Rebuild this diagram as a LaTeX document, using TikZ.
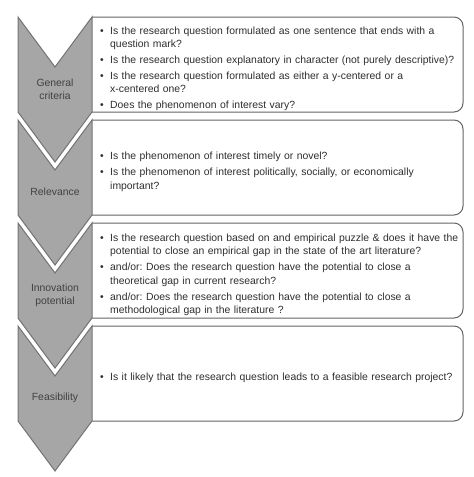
\documentclass[tikz,border=0pt]{standalone}
\usepackage{fontspec}
\setmainfont{Liberation Sans}
\definecolor{chevfill}{RGB}{166,166,166}
\definecolor{chevline}{RGB}{115,115,115}
\definecolor{boxline}{RGB}{100,100,100}
\definecolor{qtext}{RGB}{45,45,45}
\definecolor{ltext}{RGB}{65,65,65}
\frenchspacing
\newcommand{\qi}[1]{\setlength{\parskip}{2.7pt}\par\hangindent=10pt\hangafter=1\noindent\makebox[10pt][l]{\textbullet}#1\par}

\begin{document}
\begin{tikzpicture}[x=1pt, y=-1pt,
    chev/.style={fill=chevfill, draw=chevline, line width=1pt, line join=miter},
    qbox/.style={draw=boxline, line width=1pt},
    label/.style={text=ltext, align=center, font=\fontsize{10.4}{13.3}\selectfont},
    qlist/.style={anchor=west, inner sep=0pt, text width=362pt, text=qtext,
        font=\fontsize{10.4}{13.3}\selectfont\frenchspacing}]
    \useasboundingbox (0,0) rectangle (474,477);

    % chevrons and boxes
    \foreach \t in {17,120,223,326} {
        \draw[qbox] (92,\t) [rounded corners=9pt] -- (463,\t) -- (463,\t+95) [sharp corners] -- (92,\t+95);
        \draw[chev] (18,\t) -- (55,\t+50) -- (92,\t) -- (92,\t+95) -- (55,\t+145) -- (18,\t+95) -- cycle;
    }

    % labels
    \node[label] (general) at (55,89) {General\\criteria};
    \node[label] (relevance) at (55,192) {Relevance};
    \node[label] (innovation) at (55,295) {Innovation\\potential};
    \node[label] (feasibility) at (55,398) {Feasibility};

    % questions
    \node[qlist] (qgeneral) at (100,64.5) {%
        \qi{Is the research question formulated as one sentence that ends with a\newline question mark?}
        \qi{Is the research question explanatory in character (not purely descriptive)?}
        \qi{Is the research question formulated as either a y-centered or a\newline x-centered one?}
        \qi{Does the phenomenon of interest vary?}};
    \node[qlist] (qrelevance) at (100,167.5) {%
        \qi{Is the phenomenon of interest timely or novel?}
        \qi{Is the phenomenon of interest politically, socially, or economically\newline important?}};
    \node[qlist] (qinnovation) at (100,270.5) {%
        \qi{Is the research question based on and empirical puzzle \& does it have the\newline potential to close an empirical gap in the state of the art literature?}
        \qi{and/or: Does the research question have the potential to close a\newline theoretical gap in current research?}
        \qi{and/or: Does the research question have the potential to close a\newline methodological gap in the literature ?}};
    \node[qlist] (qfeasibility) at (100,373.5) {%
        \qi{Is it likely that the research question leads to a feasible research project?}};
\end{tikzpicture}
\end{document}
